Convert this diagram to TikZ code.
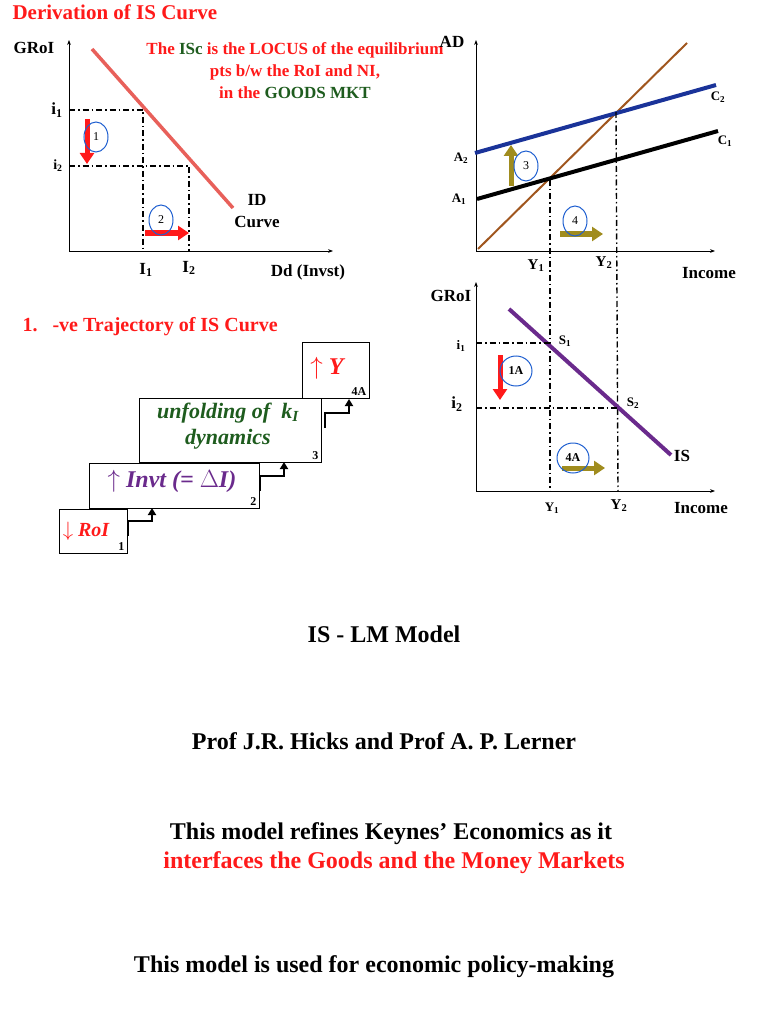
\documentclass[tikz,border=0pt]{standalone}
\usepackage{fontspec}
\setmainfont{Liberation Serif}
\usetikzlibrary{arrows.meta,shapes.geometric}
\definecolor{idred}{HTML}{E8605A}
\definecolor{mred}{HTML}{FF1A1A}
\definecolor{dgreen}{HTML}{1E5C1E}
\definecolor{olive}{HTML}{A08C1E}
\definecolor{cblue}{HTML}{1A3399}
\definecolor{brownl}{HTML}{A0561E}
\definecolor{purp}{HTML}{6A2A8C}
\definecolor{circ}{HTML}{1F5FD0}
\tikzset{
  lab/.style={font=\bfseries\fontsize{17}{19}\selectfont},
  sub/.style={font=\bfseries\fontsize{13}{15}\selectfont},
  ax/.style={-{Stealth[length=5pt]},line width=0.8pt},
  dd/.style={line width=1.4pt,dash pattern=on 6pt off 3pt on 1.5pt off 3pt},
  numc/.style={draw=circ,ellipse,line width=1pt,minimum width=24pt,minimum height=30pt,inner sep=0pt,font=\fontsize{12}{13}\selectfont},
  fat/.style={-{Triangle[length=11pt,width=14pt]},line width=5pt},
  stepbox/.style={draw,line width=0.8pt,anchor=north west},
  stair/.style={-{Triangle[length=7pt,width=8pt]},line width=2.5pt},
  big/.style={font=\bfseries\fontsize{24}{28}\selectfont}
}
\begin{document}
\begin{tikzpicture}[x=1pt,y=-1pt]
\useasboundingbox (0,0) rectangle (768,1024);
\node[anchor=west,text=mred,font=\bfseries\fontsize{21}{24}\selectfont] (title) at (9,12) {Derivation of IS Curve};
% investment demand
\draw[ax] (69,251) -- (69,40);
\draw[ax] (69,251) -- (333,251);
\draw[idred,line width=3.5pt] (92,49) -- (233,208);
\draw[dd] (69,110) -- (143,110) -- (143,251);
\draw[dd] (69,166) -- (189,166) -- (189,251);
\node[lab] (groi1) at (34,48) {GRoI};
\node[lab] (i1) at (57,110) {i\textsubscript{1}};
\node[lab,font=\bfseries\fontsize{14}{15}\selectfont] (i2) at (58,166) {i\textsubscript{2}};
\node[lab] (I1) at (146,270) {I\textsubscript{1}};
\node[lab] (I2) at (189,268) {I\textsubscript{2}};
\node[lab] (dd) at (308,272) {Dd (Invst)};
\node[lab] (id) at (257,200) {ID};
\node[lab] (cv) at (257,222) {Curve};
\draw[fat,mred] (87,119) -- (87,164);
\node[numc] (c1) at (96,137) {1};
\draw[fat,mred] (145,233) -- (189,233);
\node[numc] (c2) at (161,220) {2};
\node[text=mred,font=\bfseries\fontsize{17}{22}\selectfont,align=center] (locus) at (295,71)
  {The \textcolor{dgreen}{ISc} is the LOCUS of the equilibrium\\pts b/w the RoI and NI,\\in the \textcolor{dgreen}{GOODS MKT}};
% AD chart
\draw[ax] (476,251) -- (476,40);
\draw[ax] (476,251) -- (715,251);
\draw[brownl,line width=2pt] (478,249) -- (687,43);
\draw[cblue,line width=4pt] (475,153) -- (716,85);
\draw[line width=4pt] (477,199) -- (718,131);
\draw[dd] (550,180) -- (550,491);
\draw[dd] (616,112) -- (618,491);
\node[lab] (ad) at (452,42) {AD};
\node[sub] (cc2) at (718,97) {C\textsubscript{2}};
\node[sub] (cc1) at (725,141) {C\textsubscript{1}};
\node[sub] (a2) at (461,158) {A\textsubscript{2}};
\node[sub] (a1) at (459,199) {A\textsubscript{1}};
\node[sub,font=\bfseries\fontsize{15}{16}\selectfont] (y1) at (536,266) {Y\textsubscript{1}};
\node[sub,font=\bfseries\fontsize{15}{16}\selectfont] (y2) at (604,263) {Y\textsubscript{2}};
\node[lab] (inc1) at (709,273) {Income};
\draw[fat,olive] (511,186) -- (511,145);
\node[numc] (c3) at (526,166) {3};
\draw[fat,olive] (560,234) -- (603,234);
\node[numc] (c4) at (575,221) {4};
% IS chart
\draw[ax] (476,491) -- (476,282);
\draw[ax] (476,491) -- (715,491);
\draw[purp,line width=4pt] (509,309) -- (671,455);
\draw[dd] (476,343) -- (550,343);
\draw[dd] (476,408) -- (618,408);
\node[lab] (groi2) at (451,296) {GRoI};
\node[sub] (j1) at (461,346) {i\textsubscript{1}};
\node[lab] (j2) at (457,404) {i\textsubscript{2}};
\node[sub] (s1) at (565,341) {S\textsubscript{1}};
\node[sub] (s2) at (633,403) {S\textsubscript{2}};
\node[lab] (is) at (682,456) {IS};
\node[sub] (z1) at (552,508) {Y\textsubscript{1}};
\node[sub,font=\bfseries\fontsize{15}{16}\selectfont] (z2) at (619,506) {Y\textsubscript{2}};
\node[lab] (inc2) at (701,508) {Income};
\draw[fat,mred] (500,355) -- (500,400);
\node[numc,minimum width=32pt] (c1a) at (516,371) {\textbf{1A}};
\draw[fat,olive] (562,468) -- (605,468);
\node[numc,minimum width=32pt] (c4a) at (573,458) {\textbf{4A}};
% trajectory
\node[anchor=west,text=mred,font=\bfseries\fontsize{20}{22}\selectfont] (traj) at (19,327) {1.\ \ \ -ve Trajectory of IS Curve};
\node[stepbox,minimum width=68pt,minimum height=44pt] (b1) at (59,509) {};
\node[text=mred,font=\bfseries\itshape\fontsize{20}{22}\selectfont] at (86,531) {$\downarrow$ RoI};
\node[sub,font=\bfseries\fontsize{12}{13}\selectfont,anchor=south east] at (b1.south east) {1};
\node[stepbox,minimum width=170pt,minimum height=45pt] (b2) at (89,463) {};
\node[text=purp,font=\bfseries\itshape\fontsize{24}{26}\selectfont] at (172,481) {$\uparrow$ Invt (= $\Delta$I)};
\node[sub,font=\bfseries\fontsize{12}{13}\selectfont,anchor=south east] at (b2.south east) {2};
\node[stepbox,minimum width=182pt,minimum height=64pt] (b3) at (139,398) {};
\node[text=dgreen,font=\bfseries\itshape\fontsize{22}{26}\selectfont,align=center] at (228,426) {unfolding of\ \ k\textsubscript{I}\\dynamics};
\node[sub,font=\bfseries\fontsize{12}{13}\selectfont,anchor=south east] at (b3.south east) {3};
\node[stepbox,minimum width=67pt,minimum height=56pt] (b4) at (302,342) {};
\node[text=mred,font=\bfseries\itshape\fontsize{24}{26}\selectfont] at (327,368) {$\uparrow$ Y};
\node[sub,font=\bfseries\fontsize{12}{13}\selectfont,anchor=south east] at (b4.south east) {4A};
\draw[stair] (128,536) -- (128,521) -- (152,521) -- (152,508);
\draw[stair] (260,491) -- (260,476) -- (284,476) -- (284,462);
\draw[stair] (325,428) -- (325,413) -- (349,413) -- (349,399);
% texts
\node[big] (islm) at (384,634) {IS - LM Model};
\node[big] (prof) at (384,741) {Prof J.R. Hicks and Prof A. P. Lerner};
\node[big] (ref1) at (391,834) {This model refines Keynes’ Economics as it};
\node[big,text=mred] (ref2) at (394,863) {interfaces the Goods and the Money Markets};
\node[big] (used) at (374,967) {This model is used for economic policy-making};
\end{tikzpicture}
\end{document}
